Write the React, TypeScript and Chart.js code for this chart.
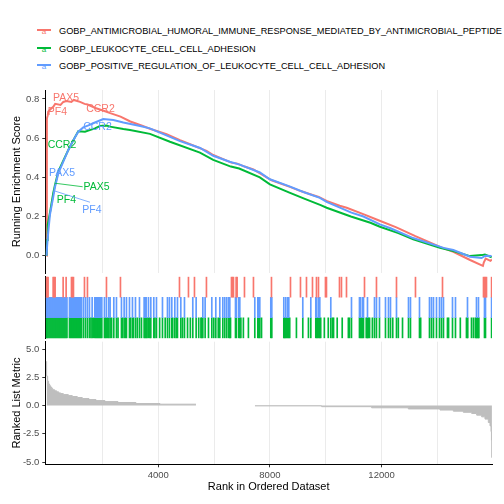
import React, { useEffect, useRef } from "react";
import { Chart, registerables } from "chart.js";
Chart.register(...registerables);

const FONT = "'Liberation Sans', Arial, sans-serif";

const SET_NAMES = [
  "GOBP_ANTIMICROBIAL_HUMORAL_IMMUNE_RESPONSE_MEDIATED_BY_ANTIMICROBIAL_PEPTIDE",
  "GOBP_LEUKOCYTE_CELL_CELL_ADHESION",
  "GOBP_POSITIVE_REGULATION_OF_LEUKOCYTE_CELL_CELL_ADHESION",
];
const SET_COLORS = ["#F8766D", "#00BA38", "#619CFF"];

// Running enrichment score (rank, score)
const RED_ES_RANKS = [0, 8, 15, 40, 60, 120, 240, 310, 500, 600, 710, 890, 970, 1100, 1200, 1360, 1470, 1750, 2150, 2280, 2650, 3000, 3400, 3700, 4300, 4780, 5300, 5730, 5970, 6620, 6830, 7090, 7410, 8060, 8740, 9100, 9530, 9750, 10030, 10500, 10750, 11390, 11820, 12530, 13210, 14180, 14570, 15170, 15630, 15660, 15730, 15900, 15950];
const RED_ES = [0, 0.12, 0.70, 0.715, 0.735, 0.745, 0.76, 0.775, 0.77, 0.785, 0.79, 0.785, 0.795, 0.79, 0.785, 0.775, 0.772, 0.754, 0.735, 0.728, 0.71, 0.685, 0.665, 0.648, 0.62, 0.59, 0.56, 0.535, 0.514, 0.475, 0.47, 0.455, 0.44, 0.385, 0.35, 0.33, 0.31, 0.3, 0.28, 0.255, 0.245, 0.21, 0.185, 0.145, 0.1, 0.04, 0.02, -0.022, -0.052, -0.035, -0.015, -0.026, -0.02];

const GREEN_ES_RANKS = [0, 20, 40, 122, 240, 300, 420, 600, 780, 960, 1135, 1376, 1520, 1734, 1913, 2150, 2271, 2750, 2990, 3704, 4420, 5494, 5970, 6600, 6900, 7640, 8000, 8700, 9250, 9820, 10032, 10900, 11600, 11941, 12600, 13134, 14090, 14567, 15165, 15584, 15700, 15942];
const GREEN_ES = [0, 0.08, 0.157, 0.22, 0.32, 0.36, 0.43, 0.485, 0.54, 0.59, 0.635, 0.633, 0.64, 0.65, 0.662, 0.664, 0.659, 0.647, 0.642, 0.622, 0.582, 0.526, 0.489, 0.455, 0.445, 0.4, 0.364, 0.322, 0.29, 0.258, 0.245, 0.2, 0.168, 0.148, 0.115, 0.084, 0.041, 0.024, -0.002, 0.003, 0.006, -0.008];

const BLUE_ES_RANKS = [0, 20, 60, 122, 240, 300, 420, 600, 780, 960, 1135, 1315, 1500, 1670, 2030, 2390, 2750, 3350, 3700, 4420, 4780, 5500, 5970, 6560, 6920, 7640, 8000, 8680, 9200, 9790, 10030, 10920, 11350, 11940, 12320, 13130, 14220, 14570, 15170, 15580, 15720, 15940];
const BLUE_ES = [0, 0.05, 0.12, 0.21, 0.3, 0.35, 0.42, 0.48, 0.54, 0.59, 0.633, 0.655, 0.665, 0.676, 0.698, 0.693, 0.68, 0.662, 0.65, 0.607, 0.585, 0.55, 0.51, 0.48, 0.465, 0.425, 0.39, 0.355, 0.325, 0.295, 0.275, 0.22, 0.2, 0.16, 0.14, 0.09, 0.04, 0.029, -0.005, -0.012, 0.0, -0.002];

// Hit positions (rank)
const RED_HITS = [1, 20, 55, 236, 271, 307, 594, 701, 892, 928, 964, 1358, 1465, 2146, 2647, 4761, 5083, 5298, 5727, 6623, 6659, 6695, 6790, 6826, 7089, 7411, 8056, 8737, 9095, 9310, 9525, 9668, 9740, 9990, 10026, 10492, 10563, 10743, 11388, 11817, 12534, 13214, 14182, 15650, 15686, 15722, 15758, 15940];
const GREEN_HITS = [1, 15, 51, 87, 122, 158, 194, 230, 266, 302, 337, 373, 409, 445, 480, 516, 552, 588, 624, 659, 695, 731, 821, 857, 893, 929, 964, 1000, 1036, 1072, 1108, 1143, 1179, 1215, 1251, 1322, 1394, 1465, 1537, 1590, 1633, 1680, 1728, 1764, 1800, 1836, 1871, 1907, 1943, 1979, 2074, 2110, 2146, 2190, 2230, 2277, 2330, 2409, 2504, 2560, 2683, 2720, 2779, 2830, 2862, 2970, 3010, 3077, 3110, 3185, 3250, 3328, 3400, 3495, 3531, 3567, 3600, 3650, 3700, 3734, 3841, 3880, 3937, 4050, 4152, 4250, 4331, 4403, 4486, 4520, 4594, 4650, 4689, 4809, 4870, 4940, 5050, 5150, 5238, 5358, 5450, 5530, 5560, 5597, 5680, 5800, 5919, 5990, 6062, 6150, 6205, 6313, 6384, 6456, 6528, 6564, 6590, 6767, 6802, 6886, 6922, 6960, 7050, 7230, 7459, 7567, 7602, 7638, 7700, 8032, 8068, 8498, 8510, 8545, 8570, 8605, 8641, 8677, 8710, 8950, 9178, 9380, 9465, 9644, 9680, 9710, 9752, 9787, 9820, 9950, 10090, 10181, 10240, 10280, 10410, 10590, 10810, 10850, 10922, 11208, 11244, 11280, 11316, 11352, 11450, 11490, 11495, 11530, 11570, 11670, 11746, 11817, 11925, 12140, 12247, 12319, 12400, 12534, 12600, 12750, 12964, 13035, 13358, 13400, 13716, 13788, 13859, 13967, 14074, 14146, 14217, 14360, 14400, 14540, 14647, 14820, 15040, 15077, 15080, 15220, 15290, 15360, 15399, 15400, 15440, 15471, 15480, 15686, 15722, 15940];
const BLUE_HITS = [1, 15, 51, 87, 122, 158, 194, 230, 266, 302, 337, 373, 409, 445, 480, 516, 552, 588, 624, 659, 695, 731, 821, 857, 893, 929, 964, 1000, 1036, 1072, 1108, 1143, 1179, 1215, 1251, 1322, 1394, 1465, 1537, 1633, 1728, 1764, 1800, 1836, 1871, 1907, 1943, 1979, 2074, 2146, 2230, 2277, 2409, 2504, 2683, 2779, 2862, 2970, 3077, 3185, 3328, 3495, 3531, 3567, 3650, 3734, 3841, 3937, 4152, 4331, 4403, 4486, 4594, 4689, 4809, 4940, 5238, 5358, 5597, 5680, 5919, 6062, 6205, 6313, 6384, 6456, 6528, 6564, 6767, 6802, 6886, 6922, 7459, 7567, 7602, 7638, 8032, 8068, 8498, 8570, 8641, 8677, 9178, 9465, 9644, 9680, 9752, 9787, 10181, 10922, 11208, 11244, 11316, 11352, 11495, 11746, 11817, 11925, 12140, 12247, 12319, 12534, 12964, 13035, 13358, 13716, 13788, 13859, 13967, 14074, 14146, 14217, 14540, 14647, 15077, 15399, 15471, 15686, 15722, 15940];

// Ranked list metric (step starts)
const METRIC_RANKS = [1, 3, 39, 74, 110, 146, 182, 218, 289, 361, 433, 504, 600, 779, 922, 1101, 1280, 1519, 1770, 2092, 2558, 3203, 4062, 5352, 5360, 7464, 9854, 11644, 12958, 14092, 14570, 14928, 15226, 15405, 15585, 15704, 15823, 15883, 15919, 15935, 15945, 15953];
const METRIC_VALUES = [3.92, 2.6, 2.15, 1.9, 1.75, 1.63, 1.53, 1.4, 1.3, 1.21, 1.12, 1.06, 0.97, 0.88, 0.8, 0.71, 0.62, 0.53, 0.44, 0.35, 0.27, 0.18, 0.12, 0.12, null, -0.03, -0.1, -0.2, -0.3, -0.4, -0.5, -0.6, -0.7, -0.85, -1.0, -1.2, -1.5, -1.8, -2.3, -3.1, -4.6, -4.6];

const X_GRID = [2000, 4000, 6000, 8000, 10000, 12000, 14000];
const X_LABELS = [4000, 8000, 12000];
const ES_TICKS = [0, 0.2, 0.4, 0.6, 0.8];
const METRIC_TICKS = [-5, -2.5, 0, 2.5, 5];

// gene labels (set index, gene, label position in data units, optional segment)
const GENE_LABELS = [
  { set: 0, gene: "PAX5", x: 695, y: 0.805 },
  { set: 0, gene: "PF4", x: 390, y: 0.7335 },
  { set: 0, gene: "CCR2", x: 1931, y: 0.749 },
  { set: 1, gene: "CCR2", x: 552, y: 0.565 },
  { set: 2, gene: "CCR2", x: 1823, y: 0.657 },
  { set: 2, gene: "PAX5", x: 552, y: 0.422 },
  { set: 1, gene: "PAX5", x: 1787, y: 0.351, seg: [301, 0.37, 1293, 0.352] },
  { set: 1, gene: "PF4", x: 713, y: 0.284 },
  { set: 2, gene: "PF4", x: 1626, y: 0.233, seg: [301, 0.33, 1555, 0.273] },
];

const X_MIN = -45;
const X_MAX = 15955;
const AXIS_W = 45.3;
const RIGHT_PAD = 12;

const gridTicks = (s: any) => {
  s.ticks = X_GRID.map((v) => ({ value: v }));
};

const fitY = (s: any) => {
  s.width = AXIS_W;
  s.paddingTop = 0;
  s.paddingBottom = 0;
};

const labelPlugin = {
  id: "geneLabels",
  afterDatasetsDraw(chart: any) {
    const { ctx } = chart;
    const x = chart.scales.x;
    const y = chart.scales.y;
    ctx.save();
    ctx.font = `10.5px ${FONT}`;
    ctx.textAlign = "center";
    ctx.textBaseline = "middle";
    GENE_LABELS.forEach((l: any) => {
      const c = SET_COLORS[l.set];
      if (l.seg) {
        ctx.strokeStyle = c;
        ctx.lineWidth = 0.8;
        ctx.beginPath();
        ctx.moveTo(x.getPixelForValue(l.seg[0]), y.getPixelForValue(l.seg[1]));
        ctx.lineTo(x.getPixelForValue(l.seg[2]), y.getPixelForValue(l.seg[3]));
        ctx.stroke();
      }
      ctx.fillStyle = c;
      ctx.fillText(l.gene, x.getPixelForValue(l.x), y.getPixelForValue(l.y));
    });
    ctx.restore();
  },
};

const esLine = (ranks: number[], vals: number[], color: string) => ({
  data: ranks.map((r, i) => ({ x: r, y: vals[i] })),
  borderColor: color,
  backgroundColor: color,
  borderWidth: 2,
  pointRadius: 0,
  tension: 0,
  fill: false,
});

const hitBars = (hits: number[], lo: number, color: string) => ({
  data: hits.map((r) => ({ x: r, y: [lo, lo + 1] })),
  backgroundColor: color,
  borderWidth: 0,
  barThickness: 1,
  grouped: false,
});

const tickFont = { family: FONT, size: 9.5 };
const titleFont = { family: FONT, size: 11 };

export default function App() {
  const topRef = useRef<HTMLCanvasElement>(null);
  const hitRef = useRef<HTMLCanvasElement>(null);
  const botRef = useRef<HTMLCanvasElement>(null);

  useEffect(() => {
    const top = new Chart(topRef.current as HTMLCanvasElement, {
      type: "line",
      data: {
        datasets: [
          esLine(BLUE_ES_RANKS, BLUE_ES, SET_COLORS[2]),
          esLine(GREEN_ES_RANKS, GREEN_ES, SET_COLORS[1]),
          esLine(RED_ES_RANKS, RED_ES, SET_COLORS[0]),
        ] as any,
      },
      options: {
        animation: false,
        responsive: false,
        layout: { padding: { top: 4, bottom: 3, left: 0, right: RIGHT_PAD } },
        plugins: { legend: { display: false }, tooltip: { enabled: false } },
        scales: {
          x: {
            type: "linear",
            min: X_MIN,
            max: X_MAX,
            afterBuildTicks: gridTicks,
            ticks: { display: false },
            grid: { color: "#EBEBEB", drawTicks: false, lineWidth: 1 },
            border: { display: false },
            afterFit: (s: any) => {
              s.height = 0;
              s.paddingLeft = 0;
              s.paddingRight = 0;
            },
          },
          y: {
            type: "linear",
            min: -0.0883,
            max: 0.8459,
            afterBuildTicks: (s: any) => {
              s.ticks = ES_TICKS.map((v) => ({ value: v }));
            },
            ticks: {
              color: "#4D4D4D",
              font: tickFont,
              padding: 3,
              autoSkip: false,
              callback: (v: any) => Number(v).toFixed(1),
            },
            grid: { drawOnChartArea: false, tickLength: 3, tickColor: "#333333" },
            border: { display: true, color: "#000000", width: 1 },
            title: {
              display: true,
              text: "Running Enrichment Score",
              color: "#000000",
              font: titleFont,
              padding: { top: 10.4, bottom: 0 },
            },
            afterFit: fitY,
          },
        },
      } as any,
      plugins: [labelPlugin],
    });

    const hit = new Chart(hitRef.current as HTMLCanvasElement, {
      type: "bar",
      data: {
        datasets: [
          hitBars(RED_HITS, 2, SET_COLORS[0]),
          hitBars(BLUE_HITS, 1, SET_COLORS[2]),
          hitBars(GREEN_HITS, 0, SET_COLORS[1]),
        ] as any,
      },
      options: {
        animation: false,
        responsive: false,
        layout: { padding: { top: 0.7, bottom: 0.7, left: 0, right: RIGHT_PAD } },
        plugins: { legend: { display: false }, tooltip: { enabled: false } },
        scales: {
          x: { type: "linear", display: false, min: X_MIN, max: X_MAX, offset: false },
          y: {
            type: "linear",
            min: 0,
            max: 3,
            ticks: { display: false },
            grid: { display: false, drawTicks: false },
            border: { display: true, color: "#000000", width: 1 },
            afterFit: fitY,
          },
        },
      } as any,
    });

    const bot = new Chart(botRef.current as HTMLCanvasElement, {
      type: "line",
      data: {
        datasets: [
          {
            data: METRIC_RANKS.map((r, i) => ({ x: r, y: METRIC_VALUES[i] })),
            stepped: "before",
            fill: "origin",
            backgroundColor: "#BEBEBE",
            borderColor: "#BEBEBE",
            borderWidth: 1,
            pointRadius: 0,
            spanGaps: false,
          },
        ] as any,
      },
      options: {
        animation: false,
        responsive: false,
        layout: { padding: { top: 3.7, bottom: 0, left: 0, right: RIGHT_PAD } },
        plugins: { legend: { display: false }, tooltip: { enabled: false } },
        scales: {
          x: {
            type: "linear",
            min: X_MIN,
            max: X_MAX,
            afterBuildTicks: gridTicks,
            ticks: {
              color: "#4D4D4D",
              font: tickFont,
              padding: 2,
              autoSkip: false,
              maxRotation: 0,
              callback: (v: any) => (X_LABELS.includes(Number(v)) ? String(v) : ""),
            },
            grid: {
              color: "#EBEBEB",
              lineWidth: 1,
              tickLength: 3,
              tickColor: (ctx: any) =>
                ctx.tick && X_LABELS.includes(ctx.tick.value) ? "#333333" : "rgba(0,0,0,0)",
            },
            border: { display: true, color: "#000000", width: 1 },
            title: {
              display: true,
              text: "Rank in Ordered Dataset",
              color: "#000000",
              font: titleFont,
              padding: { top: 0, bottom: 10.4 },
            },
            afterFit: (s: any) => {
              s.height = 39.7;
              s.paddingLeft = 0;
              s.paddingRight = 0;
            },
          },
          y: {
            type: "linear",
            min: -5.2,
            max: 5.65,
            afterBuildTicks: (s: any) => {
              s.ticks = METRIC_TICKS.map((v) => ({ value: v }));
            },
            ticks: {
              color: "#4D4D4D",
              font: tickFont,
              padding: 3,
              autoSkip: false,
              callback: (v: any) => Number(v).toFixed(1),
            },
            grid: { drawOnChartArea: false, tickLength: 3, tickColor: "#333333" },
            border: { display: true, color: "#000000", width: 1 },
            title: {
              display: true,
              text: "Ranked List Metric",
              color: "#000000",
              font: titleFont,
              padding: { top: 10.4, bottom: 0 },
            },
            afterFit: fitY,
          },
        },
      } as any,
    });

    return () => {
      top.destroy();
      hit.destroy();
      bot.destroy();
    };
  }, []);

  const legendY = [31, 49, 66.3];

  return (
    <div
      style={{
        position: "fixed",
        left: 0,
        top: 0,
        width: 504,
        height: 504,
        background: "#ffffff",
        overflow: "hidden",
        fontFamily: FONT,
      }}
    >
      {SET_NAMES.map((name, i) => (
        <div
          key={name}
          style={{
            position: "absolute",
            left: 37,
            top: legendY[i] - 7,
            height: 14,
            display: "flex",
            alignItems: "center",
            fontSize: 9.2,
            color: "#000000",
            whiteSpace: "nowrap",
          }}
        >
          <span style={{ position: "relative", width: 14, height: 14, display: "inline-block", marginRight: 8 }}>
            <span
              style={{
                position: "absolute",
                left: 0,
                width: 14,
                top: 5,
                height: 1.5,
                background: SET_COLORS[i],
              }}
            />
            <span
              style={{
                position: "absolute",
                left: 0,
                width: 14,
                top: 2.7,
                textAlign: "center",
                fontSize: 8,
                lineHeight: "9px",
                color: SET_COLORS[i],
              }}
            >
              a
            </span>
          </span>
          <span>{name}</span>
        </div>
      ))}
      <canvas
        ref={topRef}
        width={504}
        height={190}
        style={{ position: "absolute", left: 0, top: 86, width: 504, height: 190 }}
      />
      <canvas
        ref={hitRef}
        width={504}
        height={63}
        style={{ position: "absolute", left: 0, top: 276, width: 504, height: 63 }}
      />
      <canvas
        ref={botRef}
        width={504}
        height={166}
        style={{ position: "absolute", left: 0, top: 338, width: 504, height: 166 }}
      />
    </div>
  );
}
